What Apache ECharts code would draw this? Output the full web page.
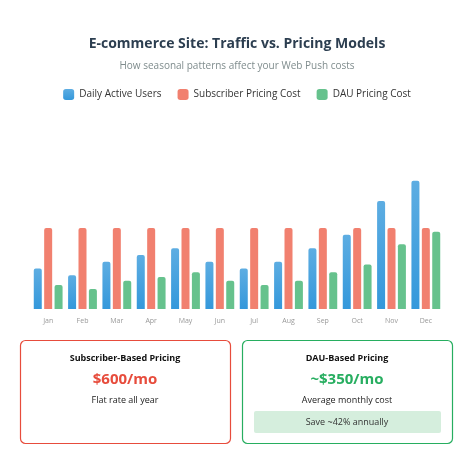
<!DOCTYPE html><html><head><meta charset="utf-8"><script src="https://cdn.jsdelivr.net/npm/echarts@6/dist/echarts.min.js"></script>
<style>html,body{margin:0;background:#fff}#c{width:474px;height:466px}</style></head><body><div id="c"></div><script>
const months=['Jan','Feb','Mar','Apr','May','Jun','Jul','Aug','Sep','Oct','Nov','Dec'];
const dau=[30000,25000,35000,40000,45000,35000,30000,35000,45000,55000,80000,95000];
const subCost=[600,600,600,600,600,600,600,600,600,600,600,600];
const dauCost=[178,148,210,237,272,210,178,210,272,330,480,573];
const grad=(a,b)=>new echarts.graphic.LinearGradient(0,0,0,1,[{offset:0,color:a},{offset:1,color:b}]);
const ch=echarts.init(document.getElementById('c'));
const F='"Open Sans",sans-serif';
ch.setOption({
 title:{text:'E-commerce Site: Traffic vs. Pricing Models',subtext:'How seasonal patterns affect your Web Push costs',left:'center',top:32,itemGap:10,
  textStyle:{fontFamily:F,fontSize:14,fontWeight:'bold',color:'#2c3e50'},subtextStyle:{fontFamily:F,fontSize:10,color:'#7f8c8d'}},
 legend:{top:84,itemWidth:11,itemHeight:11,itemGap:16,icon:'roundRect',textStyle:{fontFamily:F,fontSize:10,color:'#333'}},
 grid:{left:31,right:31,top:174,bottom:157},
 xAxis:{type:'category',data:months,axisLine:{show:false},axisTick:{show:false},axisLabel:{fontSize:7,color:'#999',fontFamily:F,margin:8}},
 yAxis:[{type:'value',min:0,max:100000,show:false},{type:'value',min:0,max:1000,show:false}],
 series:[
  {name:'Daily Active Users',type:'bar',data:dau,yAxisIndex:0,barWidth:8,barGap:'30%',itemStyle:{color:grad('#5dade2','#3498db'),borderRadius:[2,2,0,0]}},
  {name:'Subscriber Pricing Cost',type:'bar',data:subCost,yAxisIndex:1,barWidth:8,itemStyle:{color:'#f1806f',borderRadius:[2,2,0,0]}},
  {name:'DAU Pricing Cost',type:'bar',data:dauCost,yAxisIndex:1,barWidth:8,itemStyle:{color:'#66c28d',borderRadius:[2,2,0,0]}}
 ],
 graphic:[
  {type:'rect',shape:{x:20.5,y:340.5,width:210,height:103,r:5},style:{fill:'#fff',stroke:'#e74c3c',lineWidth:1.2}},
  {type:'text',x:125,y:358,style:{text:'Subscriber-Based Pricing',align:'center',verticalAlign:'middle',font:'bold 9px '+F,fill:'#111'}},
  {type:'text',x:125,y:380,style:{text:'$600/mo',align:'center',verticalAlign:'middle',font:'bold 15px '+F,fill:'#e74c3c'}},
  {type:'text',x:125,y:400,style:{text:'Flat rate all year',align:'center',verticalAlign:'middle',font:'9px '+F,fill:'#222'}},
  {type:'rect',shape:{x:242.5,y:340.5,width:210,height:103,r:5},style:{fill:'#fff',stroke:'#27ae60',lineWidth:1.2}},
  {type:'text',x:347,y:358,style:{text:'DAU-Based Pricing',align:'center',verticalAlign:'middle',font:'bold 9px '+F,fill:'#111'}},
  {type:'text',x:347,y:380,style:{text:'~$350/mo',align:'center',verticalAlign:'middle',font:'bold 15px '+F,fill:'#27ae60'}},
  {type:'text',x:347,y:400,style:{text:'Average monthly cost',align:'center',verticalAlign:'middle',font:'9px '+F,fill:'#222'}},
  {type:'rect',shape:{x:254,y:411,width:187,height:22,r:2},style:{fill:'#d5eedd'}},
  {type:'text',x:347,y:422,style:{text:'Save ~42% annually',align:'center',verticalAlign:'middle',font:'9px '+F,fill:'#333'}}
 ]
});
</script></body></html>
